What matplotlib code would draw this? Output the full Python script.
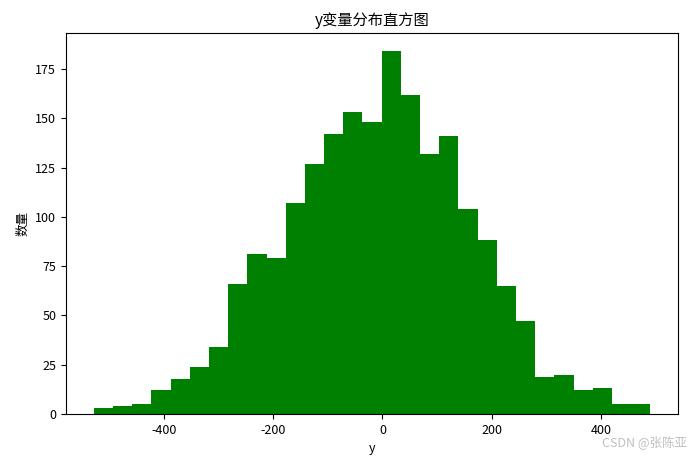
import numpy as np
import matplotlib
matplotlib.use("Agg")
import matplotlib.pyplot as plt

plt.rcParams['font.family'] = ['Noto Sans CJK SC', 'DejaVu Sans']
plt.rcParams['axes.unicode_minus'] = False

# Data
bin_start = -528
bin_end = 490
counts = [3, 4, 5, 12, 18, 24, 34, 66, 81, 79, 107, 127, 142, 153, 148,
          184, 162, 132, 141, 104, 88, 65, 47, 19, 20, 12, 13, 5, 5]
title = "y变量分布直方图"
xlabel = "y"
ylabel = "数量"
watermark = "CSDN @张陈亚"

edges = np.linspace(bin_start, bin_end, len(counts) + 1)
centers = (edges[:-1] + edges[1:]) / 2

fig = plt.figure(figsize=(6.92, 4.59), dpi=100)
ax = fig.add_axes([0.0954, 0.098, 0.8846, 0.83])
ax.hist(centers, bins=edges, weights=counts, color='green')
ax.set_title(title, fontsize=11)
ax.set_xlabel(xlabel, fontsize=9)
ax.set_ylabel(ylabel, fontsize=9)
ax.tick_params(labelsize=9)
fig.text(0.993, 0.022, watermark, ha='right', va='bottom', fontsize=9, color='#c0c0c0')
fig.savefig("out.png", dpi=100)
